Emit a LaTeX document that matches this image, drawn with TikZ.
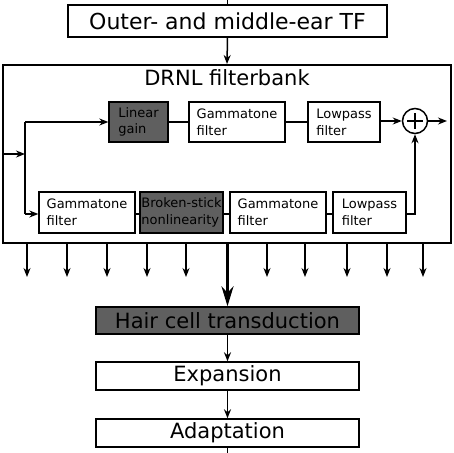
\documentclass[tikz,border=0pt]{standalone}
\usepackage{fontspec}
\setmainfont{DejaVu Sans}
\usepackage{tikz}
\usetikzlibrary{arrows.meta}
\definecolor{cellgray}{HTML}{5F5F5F}
\tikzset{
  stagebox/.style={draw, line width=1.4pt, minimum width=263pt, minimum height=28pt,
    inner sep=0pt, font=\fontsize{21}{24}\selectfont},
  filterbox/.style={draw, line width=1.3pt, minimum height=41pt, inner sep=0pt,
    align=left, font=\fontsize{13}{16.8}\selectfont},
  darkbox/.style={fill=cellgray},
  sig/.style={line width=1.5pt, -{Stealth[length=9pt,width=7pt]}},
  link/.style={line width=1.5pt},
  channel/.style={line width=1.1pt, -{Stealth[length=9pt,width=7pt]}},
}
\begin{document}
\begin{tikzpicture}[x=1pt, y=-1pt]
  \useasboundingbox (0,0) rectangle (453,453);

  % Outer and middle ear
  \node[stagebox, minimum width=319pt, minimum height=32pt, font=\fontsize{22}{24}\selectfont] (ome) at (227.5,21) {Outer- and middle-ear TF};
  \coordinate (top) at (227.5,0);
  \draw[link] (top) -- (ome.north);

  % DRNL filterbank frame
  \node[draw, line width=2pt, minimum width=448pt, minimum height=178pt, inner sep=0pt] (drnl) at (227,154) {};
  \node[font=\fontsize{21}{24}\selectfont] (title) at (227,78) {DRNL filterbank};
  \draw[sig] (ome.south) -- (drnl.north);

  % Linear path
  \node[filterbox, darkbox, minimum width=59pt, minimum height=40pt] (lingain) at (138.5,122) {Linear\\gain};
  \node[filterbox, minimum width=96pt, minimum height=40pt] (gtlin) at (237,122) {Gammatone\\filter};
  \node[filterbox, minimum width=72pt, minimum height=40pt] (lplin) at (344,122) {Lowpass\\filter};
  \node[draw, circle, line width=1.5pt, minimum size=25pt, inner sep=0pt] (sum) at (415,121) {};
  \draw[line width=2.2pt] (sum.center) ++(-8,0) -- ++(16,0);
  \draw[line width=2.2pt] (sum.center) ++(0,-8) -- ++(0,16);

  % Nonlinear path
  \node[filterbox, minimum width=96pt] (gtnl) at (87,212.5) {Gammatone\\filter};
  \node[filterbox, darkbox, minimum width=83pt] (bsnl) at (181.5,212.5) {Broken-stick\\nonlinearity};
  \node[filterbox, minimum width=96pt] (gtnl2) at (278,212.5) {Gammatone\\filter};
  \node[filterbox, minimum width=73pt] (lpnl) at (369.5,212.5) {Lowpass\\filter};

  % Input split
  \coordinate (in) at (4,154);
  \coordinate (split) at (25,154);
  \coordinate (splitup) at (25,122);
  \coordinate (splitdn) at (25,214);
  \draw[sig] (in) -- (split);
  \draw[link] (splitup) -- (splitdn);
  \draw[sig] (splitup) -- (lingain.west);
  \draw[sig] (splitdn) -- (gtnl.west |- splitdn);

  % Connections
  \draw[link] (lingain) -- (gtlin);
  \draw[link] (gtlin) -- (lplin);
  \draw[sig] (lplin.east |- sum) -- (sum.west);
  \draw[link] (gtnl.east |- splitdn) -- (bsnl.west |- splitdn);
  \draw[link] (bsnl.east |- splitdn) -- (gtnl2.west |- splitdn);
  \draw[link] (gtnl2.east |- splitdn) -- (lpnl.west |- splitdn);
  \draw[sig] (lpnl.east |- splitdn) -| (sum.south);
  \coordinate (out) at (447,121);
  \draw[sig] (sum.east) -- (out);

  % Frequency channels
  \foreach \x in {27,67,107,147,186,267,305,347,387,423} {
    \draw[channel] (\x,243) -- (\x,277);
  }

  % Later stages
  \node[stagebox, darkbox, minimum height=27pt] (ihc) at (227.5,320.5) {Hair cell transduction};
  \node[stagebox] (expan) at (227.5,376) {Expansion};
  \node[stagebox] (adapt) at (227.5,433) {Adaptation};
  \coordinate (bottom) at (227.5,453);
  \draw[line width=2.8pt, -{Stealth[length=20pt,width=12pt]}] (drnl.south -| ihc) -- (ihc.north);
  \draw[sig] (ihc) -- (expan);
  \draw[sig] (expan) -- (adapt);
  \draw[link] (adapt) -- (bottom);
\end{tikzpicture}
\end{document}
